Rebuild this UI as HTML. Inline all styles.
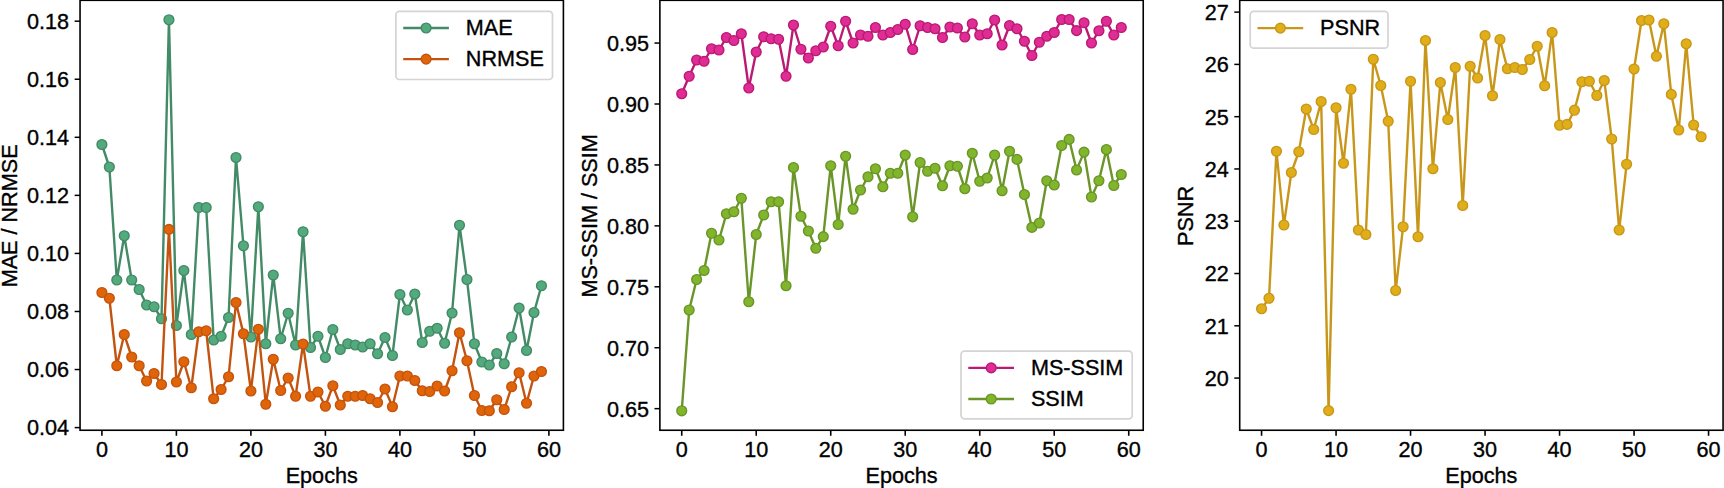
<!DOCTYPE html>
<html lang="en"><head><meta charset="utf-8"><title>Training metrics</title>
<style>html,body{margin:0;padding:0;background:#fff;}svg{display:block;}text{font-family:"Liberation Sans",sans-serif;font-size:21.2px;fill:#000;stroke:#000;stroke-width:0.35px;}</style></head><body>
<svg width="1724" height="488" viewBox="0 0 1724 488">
<rect width="1724" height="488" fill="#fff"/>
<polyline fill="none" stroke="#438a66" stroke-width="2.4" stroke-linejoin="round" points="101.90,144.50 109.35,167.00 116.80,280.00 124.25,235.75 131.70,280.00 139.15,289.50 146.60,305.00 154.05,306.75 161.50,318.75 168.95,19.80 176.40,325.50 183.85,270.50 191.30,334.50 198.75,207.50 206.20,207.50 213.65,340.00 221.10,336.25 228.55,317.50 236.00,157.50 243.45,245.75 250.90,337.00 258.35,206.75 265.80,343.75 273.25,275.00 280.70,338.75 288.15,313.25 295.60,345.00 303.05,231.75 310.50,347.50 317.95,336.25 325.40,357.50 332.85,329.50 340.30,349.50 347.75,343.75 355.20,345.00 362.65,347.00 370.10,343.75 377.55,353.75 385.00,337.50 392.45,355.50 399.90,294.50 407.35,310.00 414.80,294.00 422.25,342.50 429.70,331.25 437.15,328.25 444.60,343.25 452.05,313.00 459.50,225.25 466.95,279.50 474.40,343.75 481.85,362.00 489.30,365.00 496.75,353.50 504.20,363.75 511.65,337.00 519.10,308.00 526.55,350.50 534.00,312.50 541.45,285.75"/>
<g fill="#52aa7d" stroke="#438a66" stroke-width="1.4"><circle cx="101.90" cy="144.50" r="4.90"/><circle cx="109.35" cy="167.00" r="4.90"/><circle cx="116.80" cy="280.00" r="4.90"/><circle cx="124.25" cy="235.75" r="4.90"/><circle cx="131.70" cy="280.00" r="4.90"/><circle cx="139.15" cy="289.50" r="4.90"/><circle cx="146.60" cy="305.00" r="4.90"/><circle cx="154.05" cy="306.75" r="4.90"/><circle cx="161.50" cy="318.75" r="4.90"/><circle cx="168.95" cy="19.80" r="4.90"/><circle cx="176.40" cy="325.50" r="4.90"/><circle cx="183.85" cy="270.50" r="4.90"/><circle cx="191.30" cy="334.50" r="4.90"/><circle cx="198.75" cy="207.50" r="4.90"/><circle cx="206.20" cy="207.50" r="4.90"/><circle cx="213.65" cy="340.00" r="4.90"/><circle cx="221.10" cy="336.25" r="4.90"/><circle cx="228.55" cy="317.50" r="4.90"/><circle cx="236.00" cy="157.50" r="4.90"/><circle cx="243.45" cy="245.75" r="4.90"/><circle cx="250.90" cy="337.00" r="4.90"/><circle cx="258.35" cy="206.75" r="4.90"/><circle cx="265.80" cy="343.75" r="4.90"/><circle cx="273.25" cy="275.00" r="4.90"/><circle cx="280.70" cy="338.75" r="4.90"/><circle cx="288.15" cy="313.25" r="4.90"/><circle cx="295.60" cy="345.00" r="4.90"/><circle cx="303.05" cy="231.75" r="4.90"/><circle cx="310.50" cy="347.50" r="4.90"/><circle cx="317.95" cy="336.25" r="4.90"/><circle cx="325.40" cy="357.50" r="4.90"/><circle cx="332.85" cy="329.50" r="4.90"/><circle cx="340.30" cy="349.50" r="4.90"/><circle cx="347.75" cy="343.75" r="4.90"/><circle cx="355.20" cy="345.00" r="4.90"/><circle cx="362.65" cy="347.00" r="4.90"/><circle cx="370.10" cy="343.75" r="4.90"/><circle cx="377.55" cy="353.75" r="4.90"/><circle cx="385.00" cy="337.50" r="4.90"/><circle cx="392.45" cy="355.50" r="4.90"/><circle cx="399.90" cy="294.50" r="4.90"/><circle cx="407.35" cy="310.00" r="4.90"/><circle cx="414.80" cy="294.00" r="4.90"/><circle cx="422.25" cy="342.50" r="4.90"/><circle cx="429.70" cy="331.25" r="4.90"/><circle cx="437.15" cy="328.25" r="4.90"/><circle cx="444.60" cy="343.25" r="4.90"/><circle cx="452.05" cy="313.00" r="4.90"/><circle cx="459.50" cy="225.25" r="4.90"/><circle cx="466.95" cy="279.50" r="4.90"/><circle cx="474.40" cy="343.75" r="4.90"/><circle cx="481.85" cy="362.00" r="4.90"/><circle cx="489.30" cy="365.00" r="4.90"/><circle cx="496.75" cy="353.50" r="4.90"/><circle cx="504.20" cy="363.75" r="4.90"/><circle cx="511.65" cy="337.00" r="4.90"/><circle cx="519.10" cy="308.00" r="4.90"/><circle cx="526.55" cy="350.50" r="4.90"/><circle cx="534.00" cy="312.50" r="4.90"/><circle cx="541.45" cy="285.75" r="4.90"/></g>
<polyline fill="none" stroke="#c35410" stroke-width="2.4" stroke-linejoin="round" points="101.90,292.50 109.35,298.25 116.80,365.75 124.25,334.50 131.70,357.00 139.15,365.75 146.60,381.00 154.05,373.50 161.50,384.50 168.95,229.40 176.40,382.00 183.85,361.75 191.30,387.75 198.75,331.75 206.20,330.75 213.65,398.75 221.10,389.50 228.55,376.75 236.00,302.50 243.45,333.75 250.90,391.00 258.35,329.25 265.80,404.25 273.25,359.25 280.70,390.50 288.15,378.00 295.60,396.25 303.05,344.00 310.50,396.25 317.95,392.00 325.40,406.25 332.85,385.75 340.30,405.00 347.75,396.25 355.20,396.25 362.65,395.50 370.10,398.75 377.55,402.50 385.00,389.00 392.45,406.75 399.90,376.00 407.35,376.00 414.80,380.50 422.25,390.75 429.70,391.50 437.15,386.00 444.60,391.00 452.05,370.75 459.50,332.75 466.95,360.75 474.40,395.50 481.85,410.50 489.30,410.75 496.75,399.75 504.20,409.50 511.65,386.75 519.10,372.75 526.55,403.25 534.00,376.00 541.45,371.50"/>
<g fill="#e06408" stroke="#c35410" stroke-width="1.4"><circle cx="101.90" cy="292.50" r="4.90"/><circle cx="109.35" cy="298.25" r="4.90"/><circle cx="116.80" cy="365.75" r="4.90"/><circle cx="124.25" cy="334.50" r="4.90"/><circle cx="131.70" cy="357.00" r="4.90"/><circle cx="139.15" cy="365.75" r="4.90"/><circle cx="146.60" cy="381.00" r="4.90"/><circle cx="154.05" cy="373.50" r="4.90"/><circle cx="161.50" cy="384.50" r="4.90"/><circle cx="168.95" cy="229.40" r="4.90"/><circle cx="176.40" cy="382.00" r="4.90"/><circle cx="183.85" cy="361.75" r="4.90"/><circle cx="191.30" cy="387.75" r="4.90"/><circle cx="198.75" cy="331.75" r="4.90"/><circle cx="206.20" cy="330.75" r="4.90"/><circle cx="213.65" cy="398.75" r="4.90"/><circle cx="221.10" cy="389.50" r="4.90"/><circle cx="228.55" cy="376.75" r="4.90"/><circle cx="236.00" cy="302.50" r="4.90"/><circle cx="243.45" cy="333.75" r="4.90"/><circle cx="250.90" cy="391.00" r="4.90"/><circle cx="258.35" cy="329.25" r="4.90"/><circle cx="265.80" cy="404.25" r="4.90"/><circle cx="273.25" cy="359.25" r="4.90"/><circle cx="280.70" cy="390.50" r="4.90"/><circle cx="288.15" cy="378.00" r="4.90"/><circle cx="295.60" cy="396.25" r="4.90"/><circle cx="303.05" cy="344.00" r="4.90"/><circle cx="310.50" cy="396.25" r="4.90"/><circle cx="317.95" cy="392.00" r="4.90"/><circle cx="325.40" cy="406.25" r="4.90"/><circle cx="332.85" cy="385.75" r="4.90"/><circle cx="340.30" cy="405.00" r="4.90"/><circle cx="347.75" cy="396.25" r="4.90"/><circle cx="355.20" cy="396.25" r="4.90"/><circle cx="362.65" cy="395.50" r="4.90"/><circle cx="370.10" cy="398.75" r="4.90"/><circle cx="377.55" cy="402.50" r="4.90"/><circle cx="385.00" cy="389.00" r="4.90"/><circle cx="392.45" cy="406.75" r="4.90"/><circle cx="399.90" cy="376.00" r="4.90"/><circle cx="407.35" cy="376.00" r="4.90"/><circle cx="414.80" cy="380.50" r="4.90"/><circle cx="422.25" cy="390.75" r="4.90"/><circle cx="429.70" cy="391.50" r="4.90"/><circle cx="437.15" cy="386.00" r="4.90"/><circle cx="444.60" cy="391.00" r="4.90"/><circle cx="452.05" cy="370.75" r="4.90"/><circle cx="459.50" cy="332.75" r="4.90"/><circle cx="466.95" cy="360.75" r="4.90"/><circle cx="474.40" cy="395.50" r="4.90"/><circle cx="481.85" cy="410.50" r="4.90"/><circle cx="489.30" cy="410.75" r="4.90"/><circle cx="496.75" cy="399.75" r="4.90"/><circle cx="504.20" cy="409.50" r="4.90"/><circle cx="511.65" cy="386.75" r="4.90"/><circle cx="519.10" cy="372.75" r="4.90"/><circle cx="526.55" cy="403.25" r="4.90"/><circle cx="534.00" cy="376.00" r="4.90"/><circle cx="541.45" cy="371.50" r="4.90"/></g>
<rect x="80.05" y="0.30" width="483.35" height="429.95" fill="none" stroke="#000" stroke-width="1.6"/>
<line x1="101.90" y1="430.25" x2="101.90" y2="435.75" stroke="#000" stroke-width="1.6"/>
<text transform="translate(101.90,456.9) scale(1.02,1)" text-anchor="middle">0</text>
<line x1="176.40" y1="430.25" x2="176.40" y2="435.75" stroke="#000" stroke-width="1.6"/>
<text transform="translate(176.40,456.9) scale(1.02,1)" text-anchor="middle">10</text>
<line x1="250.90" y1="430.25" x2="250.90" y2="435.75" stroke="#000" stroke-width="1.6"/>
<text transform="translate(250.90,456.9) scale(1.02,1)" text-anchor="middle">20</text>
<line x1="325.40" y1="430.25" x2="325.40" y2="435.75" stroke="#000" stroke-width="1.6"/>
<text transform="translate(325.40,456.9) scale(1.02,1)" text-anchor="middle">30</text>
<line x1="399.90" y1="430.25" x2="399.90" y2="435.75" stroke="#000" stroke-width="1.6"/>
<text transform="translate(399.90,456.9) scale(1.02,1)" text-anchor="middle">40</text>
<line x1="474.40" y1="430.25" x2="474.40" y2="435.75" stroke="#000" stroke-width="1.6"/>
<text transform="translate(474.40,456.9) scale(1.02,1)" text-anchor="middle">50</text>
<line x1="548.90" y1="430.25" x2="548.90" y2="435.75" stroke="#000" stroke-width="1.6"/>
<text transform="translate(548.90,456.9) scale(1.02,1)" text-anchor="middle">60</text>
<line x1="74.65" y1="427.60" x2="80.05" y2="427.60" stroke="#000" stroke-width="1.5"/>
<text transform="translate(69.15,435.45) scale(1.02,1)" text-anchor="end">0.04</text>
<line x1="74.65" y1="369.54" x2="80.05" y2="369.54" stroke="#000" stroke-width="1.5"/>
<text transform="translate(69.15,377.39) scale(1.02,1)" text-anchor="end">0.06</text>
<line x1="74.65" y1="311.48" x2="80.05" y2="311.48" stroke="#000" stroke-width="1.5"/>
<text transform="translate(69.15,319.33) scale(1.02,1)" text-anchor="end">0.08</text>
<line x1="74.65" y1="253.42" x2="80.05" y2="253.42" stroke="#000" stroke-width="1.5"/>
<text transform="translate(69.15,261.27) scale(1.02,1)" text-anchor="end">0.10</text>
<line x1="74.65" y1="195.36" x2="80.05" y2="195.36" stroke="#000" stroke-width="1.5"/>
<text transform="translate(69.15,203.21) scale(1.02,1)" text-anchor="end">0.12</text>
<line x1="74.65" y1="137.30" x2="80.05" y2="137.30" stroke="#000" stroke-width="1.5"/>
<text transform="translate(69.15,145.15) scale(1.02,1)" text-anchor="end">0.14</text>
<line x1="74.65" y1="79.24" x2="80.05" y2="79.24" stroke="#000" stroke-width="1.5"/>
<text transform="translate(69.15,87.09) scale(1.02,1)" text-anchor="end">0.16</text>
<line x1="74.65" y1="21.18" x2="80.05" y2="21.18" stroke="#000" stroke-width="1.5"/>
<text transform="translate(69.15,29.03) scale(1.02,1)" text-anchor="end">0.18</text>
<text transform="translate(321.72,483.0) scale(1.02,1)" text-anchor="middle">Epochs</text>
<text transform="translate(16.80,215.90) rotate(-90) scale(1.02,1)" text-anchor="middle">MAE / NRMSE</text>
<rect x="395.90" y="11.30" width="156.60" height="68.20" rx="3.5" ry="3.5" fill="#fff" fill-opacity="0.8" stroke="#d4d4d4" stroke-width="1.7"/>
<line x1="403.20" y1="28.00" x2="448.90" y2="28.00" stroke="#438a66" stroke-width="2.4"/>
<circle cx="426.10" cy="28.00" r="4.90" fill="#52aa7d" stroke="#438a66" stroke-width="1.4"/>
<text transform="translate(465.80,34.90) scale(1.02,1)">MAE</text>
<line x1="403.20" y1="59.10" x2="448.90" y2="59.10" stroke="#c35410" stroke-width="2.4"/>
<circle cx="426.10" cy="59.10" r="4.90" fill="#e06408" stroke="#c35410" stroke-width="1.4"/>
<text transform="translate(465.80,66.00) scale(1.02,1)">NRMSE</text>
<polyline fill="none" stroke="#ba1a74" stroke-width="2.4" stroke-linejoin="round" points="681.73,93.75 689.18,76.25 696.63,60.00 704.08,61.25 711.53,48.75 718.98,50.00 726.43,37.50 733.88,40.50 741.33,33.75 748.78,88.00 756.23,52.00 763.68,36.75 771.13,38.75 778.58,39.25 786.03,76.25 793.48,25.00 800.93,49.25 808.38,58.00 815.83,50.75 823.28,47.00 830.73,26.25 838.18,45.75 845.63,21.25 853.08,43.00 860.53,35.00 867.98,36.25 875.43,27.50 882.88,35.00 890.33,32.50 897.78,29.50 905.23,24.25 912.68,49.50 920.13,25.75 927.58,27.50 935.03,28.75 942.48,37.50 949.93,27.00 957.38,28.00 964.83,37.00 972.28,23.75 979.73,35.00 987.18,33.75 994.63,20.00 1002.08,45.00 1009.53,25.50 1016.98,28.75 1024.43,41.25 1031.88,55.50 1039.33,42.25 1046.78,36.25 1054.23,32.50 1061.68,19.50 1069.13,19.50 1076.58,30.60 1084.03,22.75 1091.48,43.00 1098.93,30.75 1106.38,21.25 1113.83,35.00 1121.28,27.50"/>
<g fill="#e02c95" stroke="#ba1a74" stroke-width="1.4"><circle cx="681.73" cy="93.75" r="4.90"/><circle cx="689.18" cy="76.25" r="4.90"/><circle cx="696.63" cy="60.00" r="4.90"/><circle cx="704.08" cy="61.25" r="4.90"/><circle cx="711.53" cy="48.75" r="4.90"/><circle cx="718.98" cy="50.00" r="4.90"/><circle cx="726.43" cy="37.50" r="4.90"/><circle cx="733.88" cy="40.50" r="4.90"/><circle cx="741.33" cy="33.75" r="4.90"/><circle cx="748.78" cy="88.00" r="4.90"/><circle cx="756.23" cy="52.00" r="4.90"/><circle cx="763.68" cy="36.75" r="4.90"/><circle cx="771.13" cy="38.75" r="4.90"/><circle cx="778.58" cy="39.25" r="4.90"/><circle cx="786.03" cy="76.25" r="4.90"/><circle cx="793.48" cy="25.00" r="4.90"/><circle cx="800.93" cy="49.25" r="4.90"/><circle cx="808.38" cy="58.00" r="4.90"/><circle cx="815.83" cy="50.75" r="4.90"/><circle cx="823.28" cy="47.00" r="4.90"/><circle cx="830.73" cy="26.25" r="4.90"/><circle cx="838.18" cy="45.75" r="4.90"/><circle cx="845.63" cy="21.25" r="4.90"/><circle cx="853.08" cy="43.00" r="4.90"/><circle cx="860.53" cy="35.00" r="4.90"/><circle cx="867.98" cy="36.25" r="4.90"/><circle cx="875.43" cy="27.50" r="4.90"/><circle cx="882.88" cy="35.00" r="4.90"/><circle cx="890.33" cy="32.50" r="4.90"/><circle cx="897.78" cy="29.50" r="4.90"/><circle cx="905.23" cy="24.25" r="4.90"/><circle cx="912.68" cy="49.50" r="4.90"/><circle cx="920.13" cy="25.75" r="4.90"/><circle cx="927.58" cy="27.50" r="4.90"/><circle cx="935.03" cy="28.75" r="4.90"/><circle cx="942.48" cy="37.50" r="4.90"/><circle cx="949.93" cy="27.00" r="4.90"/><circle cx="957.38" cy="28.00" r="4.90"/><circle cx="964.83" cy="37.00" r="4.90"/><circle cx="972.28" cy="23.75" r="4.90"/><circle cx="979.73" cy="35.00" r="4.90"/><circle cx="987.18" cy="33.75" r="4.90"/><circle cx="994.63" cy="20.00" r="4.90"/><circle cx="1002.08" cy="45.00" r="4.90"/><circle cx="1009.53" cy="25.50" r="4.90"/><circle cx="1016.98" cy="28.75" r="4.90"/><circle cx="1024.43" cy="41.25" r="4.90"/><circle cx="1031.88" cy="55.50" r="4.90"/><circle cx="1039.33" cy="42.25" r="4.90"/><circle cx="1046.78" cy="36.25" r="4.90"/><circle cx="1054.23" cy="32.50" r="4.90"/><circle cx="1061.68" cy="19.50" r="4.90"/><circle cx="1069.13" cy="19.50" r="4.90"/><circle cx="1076.58" cy="30.60" r="4.90"/><circle cx="1084.03" cy="22.75" r="4.90"/><circle cx="1091.48" cy="43.00" r="4.90"/><circle cx="1098.93" cy="30.75" r="4.90"/><circle cx="1106.38" cy="21.25" r="4.90"/><circle cx="1113.83" cy="35.00" r="4.90"/><circle cx="1121.28" cy="27.50" r="4.90"/></g>
<polyline fill="none" stroke="#6a9528" stroke-width="2.4" stroke-linejoin="round" points="681.73,410.80 689.18,310.00 696.63,279.50 704.08,270.50 711.53,233.25 718.98,240.00 726.43,213.75 733.88,211.75 741.33,198.25 748.78,301.75 756.23,234.50 763.68,215.00 771.13,201.75 778.58,201.75 786.03,285.75 793.48,167.50 800.93,216.25 808.38,231.00 815.83,248.25 823.28,236.60 830.73,165.75 838.18,224.50 845.63,156.25 853.08,209.25 860.53,190.00 867.98,176.75 875.43,168.75 882.88,186.75 890.33,173.25 897.78,173.25 905.23,155.00 912.68,216.80 920.13,162.50 927.58,171.25 935.03,168.25 942.48,185.75 949.93,165.75 957.38,166.25 964.83,188.75 972.28,153.25 979.73,181.25 987.18,178.00 994.63,155.00 1002.08,190.75 1009.53,151.25 1016.98,159.40 1024.43,194.50 1031.88,227.40 1039.33,223.00 1046.78,180.75 1054.23,185.00 1061.68,145.50 1069.13,139.40 1076.58,170.00 1084.03,152.10 1091.48,197.00 1098.93,180.75 1106.38,149.50 1113.83,185.50 1121.28,174.50"/>
<g fill="#80b52c" stroke="#6a9528" stroke-width="1.4"><circle cx="681.73" cy="410.80" r="4.90"/><circle cx="689.18" cy="310.00" r="4.90"/><circle cx="696.63" cy="279.50" r="4.90"/><circle cx="704.08" cy="270.50" r="4.90"/><circle cx="711.53" cy="233.25" r="4.90"/><circle cx="718.98" cy="240.00" r="4.90"/><circle cx="726.43" cy="213.75" r="4.90"/><circle cx="733.88" cy="211.75" r="4.90"/><circle cx="741.33" cy="198.25" r="4.90"/><circle cx="748.78" cy="301.75" r="4.90"/><circle cx="756.23" cy="234.50" r="4.90"/><circle cx="763.68" cy="215.00" r="4.90"/><circle cx="771.13" cy="201.75" r="4.90"/><circle cx="778.58" cy="201.75" r="4.90"/><circle cx="786.03" cy="285.75" r="4.90"/><circle cx="793.48" cy="167.50" r="4.90"/><circle cx="800.93" cy="216.25" r="4.90"/><circle cx="808.38" cy="231.00" r="4.90"/><circle cx="815.83" cy="248.25" r="4.90"/><circle cx="823.28" cy="236.60" r="4.90"/><circle cx="830.73" cy="165.75" r="4.90"/><circle cx="838.18" cy="224.50" r="4.90"/><circle cx="845.63" cy="156.25" r="4.90"/><circle cx="853.08" cy="209.25" r="4.90"/><circle cx="860.53" cy="190.00" r="4.90"/><circle cx="867.98" cy="176.75" r="4.90"/><circle cx="875.43" cy="168.75" r="4.90"/><circle cx="882.88" cy="186.75" r="4.90"/><circle cx="890.33" cy="173.25" r="4.90"/><circle cx="897.78" cy="173.25" r="4.90"/><circle cx="905.23" cy="155.00" r="4.90"/><circle cx="912.68" cy="216.80" r="4.90"/><circle cx="920.13" cy="162.50" r="4.90"/><circle cx="927.58" cy="171.25" r="4.90"/><circle cx="935.03" cy="168.25" r="4.90"/><circle cx="942.48" cy="185.75" r="4.90"/><circle cx="949.93" cy="165.75" r="4.90"/><circle cx="957.38" cy="166.25" r="4.90"/><circle cx="964.83" cy="188.75" r="4.90"/><circle cx="972.28" cy="153.25" r="4.90"/><circle cx="979.73" cy="181.25" r="4.90"/><circle cx="987.18" cy="178.00" r="4.90"/><circle cx="994.63" cy="155.00" r="4.90"/><circle cx="1002.08" cy="190.75" r="4.90"/><circle cx="1009.53" cy="151.25" r="4.90"/><circle cx="1016.98" cy="159.40" r="4.90"/><circle cx="1024.43" cy="194.50" r="4.90"/><circle cx="1031.88" cy="227.40" r="4.90"/><circle cx="1039.33" cy="223.00" r="4.90"/><circle cx="1046.78" cy="180.75" r="4.90"/><circle cx="1054.23" cy="185.00" r="4.90"/><circle cx="1061.68" cy="145.50" r="4.90"/><circle cx="1069.13" cy="139.40" r="4.90"/><circle cx="1076.58" cy="170.00" r="4.90"/><circle cx="1084.03" cy="152.10" r="4.90"/><circle cx="1091.48" cy="197.00" r="4.90"/><circle cx="1098.93" cy="180.75" r="4.90"/><circle cx="1106.38" cy="149.50" r="4.90"/><circle cx="1113.83" cy="185.50" r="4.90"/><circle cx="1121.28" cy="174.50" r="4.90"/></g>
<rect x="659.88" y="0.30" width="483.35" height="429.95" fill="none" stroke="#000" stroke-width="1.6"/>
<line x1="681.73" y1="430.25" x2="681.73" y2="435.75" stroke="#000" stroke-width="1.6"/>
<text transform="translate(681.73,456.9) scale(1.02,1)" text-anchor="middle">0</text>
<line x1="756.23" y1="430.25" x2="756.23" y2="435.75" stroke="#000" stroke-width="1.6"/>
<text transform="translate(756.23,456.9) scale(1.02,1)" text-anchor="middle">10</text>
<line x1="830.73" y1="430.25" x2="830.73" y2="435.75" stroke="#000" stroke-width="1.6"/>
<text transform="translate(830.73,456.9) scale(1.02,1)" text-anchor="middle">20</text>
<line x1="905.23" y1="430.25" x2="905.23" y2="435.75" stroke="#000" stroke-width="1.6"/>
<text transform="translate(905.23,456.9) scale(1.02,1)" text-anchor="middle">30</text>
<line x1="979.73" y1="430.25" x2="979.73" y2="435.75" stroke="#000" stroke-width="1.6"/>
<text transform="translate(979.73,456.9) scale(1.02,1)" text-anchor="middle">40</text>
<line x1="1054.23" y1="430.25" x2="1054.23" y2="435.75" stroke="#000" stroke-width="1.6"/>
<text transform="translate(1054.23,456.9) scale(1.02,1)" text-anchor="middle">50</text>
<line x1="1128.73" y1="430.25" x2="1128.73" y2="435.75" stroke="#000" stroke-width="1.6"/>
<text transform="translate(1128.73,456.9) scale(1.02,1)" text-anchor="middle">60</text>
<line x1="654.48" y1="408.65" x2="659.88" y2="408.65" stroke="#000" stroke-width="1.5"/>
<text transform="translate(648.98,416.50) scale(1.02,1)" text-anchor="end">0.65</text>
<line x1="654.48" y1="347.72" x2="659.88" y2="347.72" stroke="#000" stroke-width="1.5"/>
<text transform="translate(648.98,355.57) scale(1.02,1)" text-anchor="end">0.70</text>
<line x1="654.48" y1="286.79" x2="659.88" y2="286.79" stroke="#000" stroke-width="1.5"/>
<text transform="translate(648.98,294.64) scale(1.02,1)" text-anchor="end">0.75</text>
<line x1="654.48" y1="225.86" x2="659.88" y2="225.86" stroke="#000" stroke-width="1.5"/>
<text transform="translate(648.98,233.71) scale(1.02,1)" text-anchor="end">0.80</text>
<line x1="654.48" y1="164.93" x2="659.88" y2="164.93" stroke="#000" stroke-width="1.5"/>
<text transform="translate(648.98,172.78) scale(1.02,1)" text-anchor="end">0.85</text>
<line x1="654.48" y1="104.00" x2="659.88" y2="104.00" stroke="#000" stroke-width="1.5"/>
<text transform="translate(648.98,111.85) scale(1.02,1)" text-anchor="end">0.90</text>
<line x1="654.48" y1="43.07" x2="659.88" y2="43.07" stroke="#000" stroke-width="1.5"/>
<text transform="translate(648.98,50.92) scale(1.02,1)" text-anchor="end">0.95</text>
<text transform="translate(901.56,483.0) scale(1.02,1)" text-anchor="middle">Epochs</text>
<text transform="translate(596.80,215.90) rotate(-90) scale(1.02,1)" text-anchor="middle">MS-SSIM / SSIM</text>
<rect x="961.00" y="351.20" width="171.20" height="67.60" rx="3.5" ry="3.5" fill="#fff" fill-opacity="0.8" stroke="#d4d4d4" stroke-width="1.7"/>
<line x1="968.30" y1="367.90" x2="1014.00" y2="367.90" stroke="#ba1a74" stroke-width="2.4"/>
<circle cx="991.20" cy="367.90" r="4.90" fill="#e02c95" stroke="#ba1a74" stroke-width="1.4"/>
<text transform="translate(1030.90,374.80) scale(1.02,1)">MS-SSIM</text>
<line x1="968.30" y1="399.00" x2="1014.00" y2="399.00" stroke="#6a9528" stroke-width="2.4"/>
<circle cx="991.20" cy="399.00" r="4.90" fill="#80b52c" stroke="#6a9528" stroke-width="1.4"/>
<text transform="translate(1030.90,405.90) scale(1.02,1)">SSIM</text>
<polyline fill="none" stroke="#c8971a" stroke-width="2.4" stroke-linejoin="round" points="1261.56,308.75 1269.01,298.25 1276.46,151.25 1283.91,225.00 1291.36,172.50 1298.81,151.75 1306.26,109.00 1313.71,129.50 1321.16,101.50 1328.61,410.60 1336.06,107.75 1343.51,163.25 1350.96,89.25 1358.41,230.00 1365.86,234.50 1373.31,59.25 1380.76,85.50 1388.21,121.20 1395.66,290.50 1403.11,226.75 1410.56,81.25 1418.01,236.75 1425.46,40.50 1432.91,168.75 1440.36,82.50 1447.81,119.50 1455.26,67.50 1462.71,205.50 1470.16,66.25 1477.61,78.00 1485.06,35.50 1492.51,95.75 1499.96,39.50 1507.41,68.75 1514.86,67.50 1522.31,69.50 1529.76,59.50 1537.21,46.25 1544.66,85.75 1552.11,32.50 1559.56,125.20 1567.01,124.40 1574.46,110.20 1581.91,81.75 1589.36,81.25 1596.81,95.50 1604.26,80.50 1611.71,139.00 1619.16,230.00 1626.61,164.25 1634.06,69.00 1641.51,20.50 1648.96,20.00 1656.41,56.25 1663.86,23.75 1671.31,94.40 1678.76,130.00 1686.21,43.75 1693.66,125.00 1701.11,136.75"/>
<g fill="#e0ae18" stroke="#c8971a" stroke-width="1.4"><circle cx="1261.56" cy="308.75" r="4.90"/><circle cx="1269.01" cy="298.25" r="4.90"/><circle cx="1276.46" cy="151.25" r="4.90"/><circle cx="1283.91" cy="225.00" r="4.90"/><circle cx="1291.36" cy="172.50" r="4.90"/><circle cx="1298.81" cy="151.75" r="4.90"/><circle cx="1306.26" cy="109.00" r="4.90"/><circle cx="1313.71" cy="129.50" r="4.90"/><circle cx="1321.16" cy="101.50" r="4.90"/><circle cx="1328.61" cy="410.60" r="4.90"/><circle cx="1336.06" cy="107.75" r="4.90"/><circle cx="1343.51" cy="163.25" r="4.90"/><circle cx="1350.96" cy="89.25" r="4.90"/><circle cx="1358.41" cy="230.00" r="4.90"/><circle cx="1365.86" cy="234.50" r="4.90"/><circle cx="1373.31" cy="59.25" r="4.90"/><circle cx="1380.76" cy="85.50" r="4.90"/><circle cx="1388.21" cy="121.20" r="4.90"/><circle cx="1395.66" cy="290.50" r="4.90"/><circle cx="1403.11" cy="226.75" r="4.90"/><circle cx="1410.56" cy="81.25" r="4.90"/><circle cx="1418.01" cy="236.75" r="4.90"/><circle cx="1425.46" cy="40.50" r="4.90"/><circle cx="1432.91" cy="168.75" r="4.90"/><circle cx="1440.36" cy="82.50" r="4.90"/><circle cx="1447.81" cy="119.50" r="4.90"/><circle cx="1455.26" cy="67.50" r="4.90"/><circle cx="1462.71" cy="205.50" r="4.90"/><circle cx="1470.16" cy="66.25" r="4.90"/><circle cx="1477.61" cy="78.00" r="4.90"/><circle cx="1485.06" cy="35.50" r="4.90"/><circle cx="1492.51" cy="95.75" r="4.90"/><circle cx="1499.96" cy="39.50" r="4.90"/><circle cx="1507.41" cy="68.75" r="4.90"/><circle cx="1514.86" cy="67.50" r="4.90"/><circle cx="1522.31" cy="69.50" r="4.90"/><circle cx="1529.76" cy="59.50" r="4.90"/><circle cx="1537.21" cy="46.25" r="4.90"/><circle cx="1544.66" cy="85.75" r="4.90"/><circle cx="1552.11" cy="32.50" r="4.90"/><circle cx="1559.56" cy="125.20" r="4.90"/><circle cx="1567.01" cy="124.40" r="4.90"/><circle cx="1574.46" cy="110.20" r="4.90"/><circle cx="1581.91" cy="81.75" r="4.90"/><circle cx="1589.36" cy="81.25" r="4.90"/><circle cx="1596.81" cy="95.50" r="4.90"/><circle cx="1604.26" cy="80.50" r="4.90"/><circle cx="1611.71" cy="139.00" r="4.90"/><circle cx="1619.16" cy="230.00" r="4.90"/><circle cx="1626.61" cy="164.25" r="4.90"/><circle cx="1634.06" cy="69.00" r="4.90"/><circle cx="1641.51" cy="20.50" r="4.90"/><circle cx="1648.96" cy="20.00" r="4.90"/><circle cx="1656.41" cy="56.25" r="4.90"/><circle cx="1663.86" cy="23.75" r="4.90"/><circle cx="1671.31" cy="94.40" r="4.90"/><circle cx="1678.76" cy="130.00" r="4.90"/><circle cx="1686.21" cy="43.75" r="4.90"/><circle cx="1693.66" cy="125.00" r="4.90"/><circle cx="1701.11" cy="136.75" r="4.90"/></g>
<rect x="1239.71" y="0.30" width="483.35" height="429.95" fill="none" stroke="#000" stroke-width="1.6"/>
<line x1="1261.56" y1="430.25" x2="1261.56" y2="435.75" stroke="#000" stroke-width="1.6"/>
<text transform="translate(1261.56,456.9) scale(1.02,1)" text-anchor="middle">0</text>
<line x1="1336.06" y1="430.25" x2="1336.06" y2="435.75" stroke="#000" stroke-width="1.6"/>
<text transform="translate(1336.06,456.9) scale(1.02,1)" text-anchor="middle">10</text>
<line x1="1410.56" y1="430.25" x2="1410.56" y2="435.75" stroke="#000" stroke-width="1.6"/>
<text transform="translate(1410.56,456.9) scale(1.02,1)" text-anchor="middle">20</text>
<line x1="1485.06" y1="430.25" x2="1485.06" y2="435.75" stroke="#000" stroke-width="1.6"/>
<text transform="translate(1485.06,456.9) scale(1.02,1)" text-anchor="middle">30</text>
<line x1="1559.56" y1="430.25" x2="1559.56" y2="435.75" stroke="#000" stroke-width="1.6"/>
<text transform="translate(1559.56,456.9) scale(1.02,1)" text-anchor="middle">40</text>
<line x1="1634.06" y1="430.25" x2="1634.06" y2="435.75" stroke="#000" stroke-width="1.6"/>
<text transform="translate(1634.06,456.9) scale(1.02,1)" text-anchor="middle">50</text>
<line x1="1708.56" y1="430.25" x2="1708.56" y2="435.75" stroke="#000" stroke-width="1.6"/>
<text transform="translate(1708.56,456.9) scale(1.02,1)" text-anchor="middle">60</text>
<line x1="1234.31" y1="378.08" x2="1239.71" y2="378.08" stroke="#000" stroke-width="1.5"/>
<text transform="translate(1228.81,385.93) scale(1.02,1)" text-anchor="end">20</text>
<line x1="1234.31" y1="325.80" x2="1239.71" y2="325.80" stroke="#000" stroke-width="1.5"/>
<text transform="translate(1228.81,333.65) scale(1.02,1)" text-anchor="end">21</text>
<line x1="1234.31" y1="273.52" x2="1239.71" y2="273.52" stroke="#000" stroke-width="1.5"/>
<text transform="translate(1228.81,281.37) scale(1.02,1)" text-anchor="end">22</text>
<line x1="1234.31" y1="221.24" x2="1239.71" y2="221.24" stroke="#000" stroke-width="1.5"/>
<text transform="translate(1228.81,229.09) scale(1.02,1)" text-anchor="end">23</text>
<line x1="1234.31" y1="168.96" x2="1239.71" y2="168.96" stroke="#000" stroke-width="1.5"/>
<text transform="translate(1228.81,176.81) scale(1.02,1)" text-anchor="end">24</text>
<line x1="1234.31" y1="116.68" x2="1239.71" y2="116.68" stroke="#000" stroke-width="1.5"/>
<text transform="translate(1228.81,124.53) scale(1.02,1)" text-anchor="end">25</text>
<line x1="1234.31" y1="64.40" x2="1239.71" y2="64.40" stroke="#000" stroke-width="1.5"/>
<text transform="translate(1228.81,72.25) scale(1.02,1)" text-anchor="end">26</text>
<line x1="1234.31" y1="12.12" x2="1239.71" y2="12.12" stroke="#000" stroke-width="1.5"/>
<text transform="translate(1228.81,19.97) scale(1.02,1)" text-anchor="end">27</text>
<text transform="translate(1481.38,483.0) scale(1.02,1)" text-anchor="middle">Epochs</text>
<text transform="translate(1193.20,215.90) rotate(-90) scale(1.02,1)" text-anchor="middle">PSNR</text>
<rect x="1250.20" y="11.40" width="137.80" height="36.80" rx="3.5" ry="3.5" fill="#fff" fill-opacity="0.8" stroke="#d4d4d4" stroke-width="1.7"/>
<line x1="1257.50" y1="28.10" x2="1303.20" y2="28.10" stroke="#c8971a" stroke-width="2.4"/>
<circle cx="1280.40" cy="28.10" r="4.90" fill="#e0ae18" stroke="#c8971a" stroke-width="1.4"/>
<text transform="translate(1320.10,35.00) scale(1.02,1)">PSNR</text>
</svg></body></html>
